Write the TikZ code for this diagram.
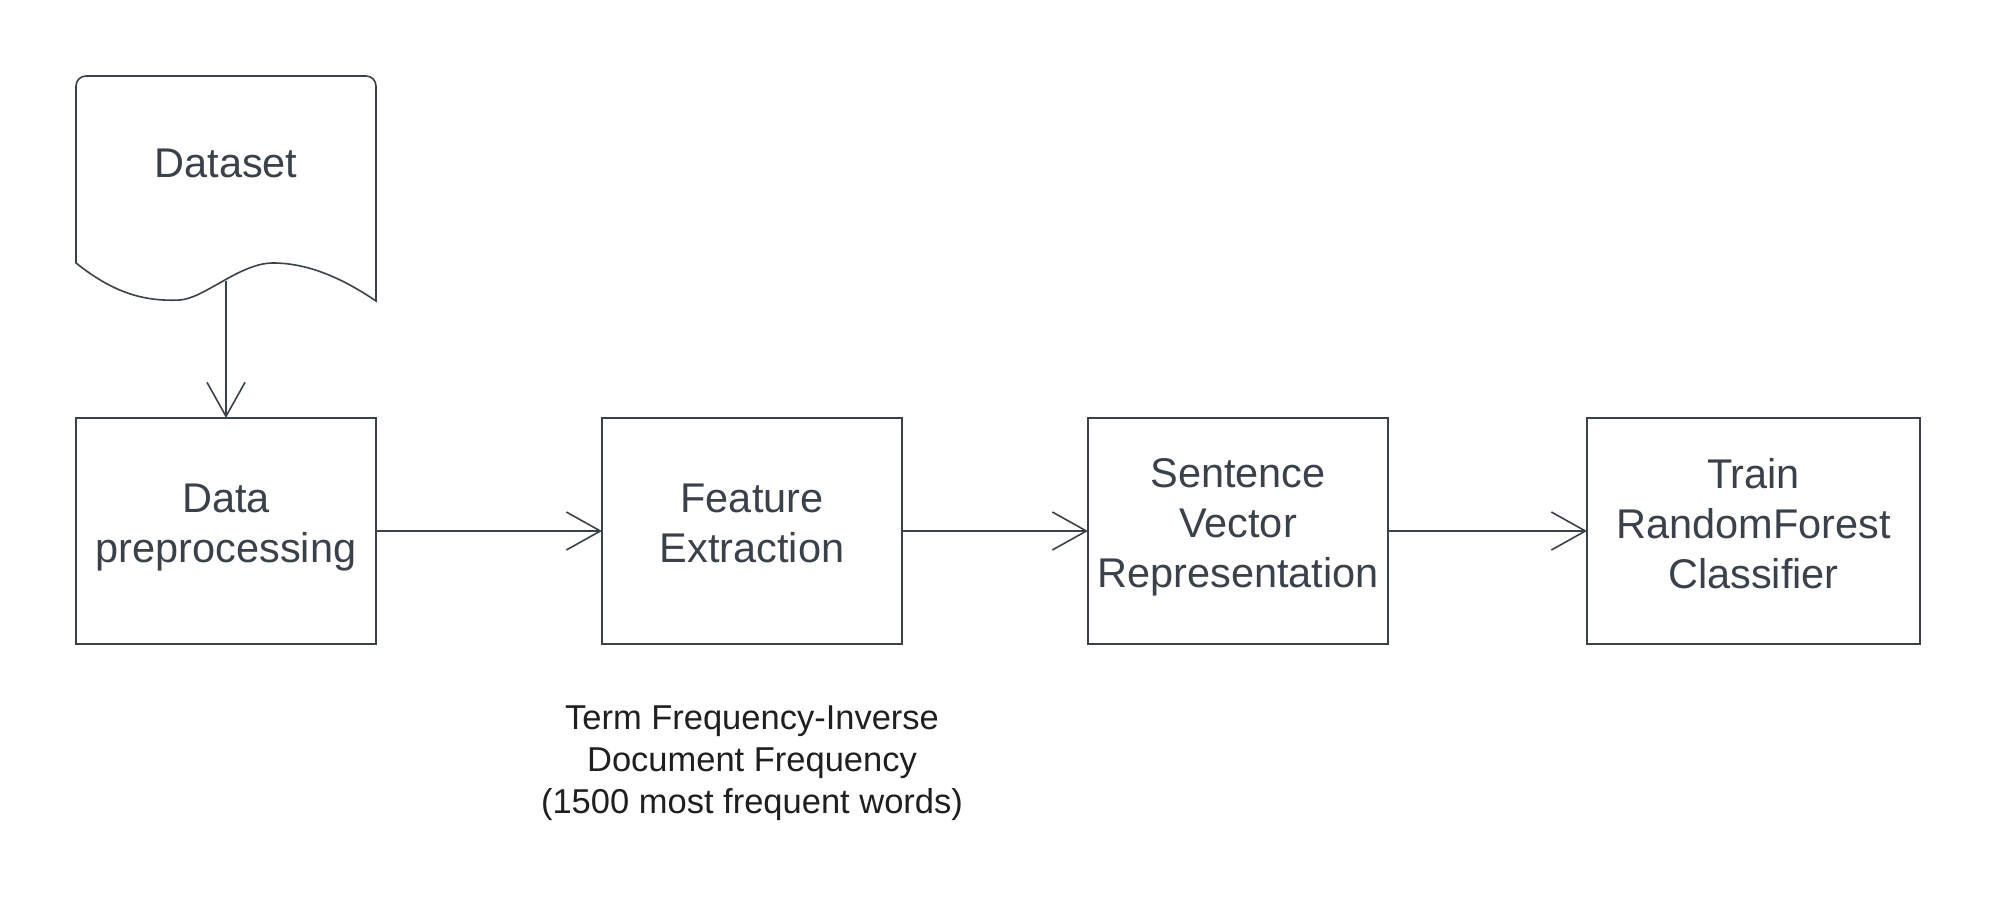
\documentclass[tikz,border=0pt]{standalone}
\usepackage{fontspec}
\setmainfont{Liberation Sans}
\usetikzlibrary{positioning,arrows.meta,calc}
\definecolor{lineslate}{HTML}{3A414A}
\definecolor{labelink}{HTML}{1F1F1F}

\begin{document}
\begin{tikzpicture}[
            x=0.5pt, y=-0.5pt,
            box/.style={rectangle, draw=lineslate, line width=0.8pt, minimum width=150pt, minimum height=113pt, inner sep=2pt, outer sep=0pt, align=center, text=lineslate, font=\fontsize{20.75pt}{25pt}\selectfont, execute at begin node=\rule{0pt}{21.5pt}, execute at end node=\strut},
            note/.style={align=center, text=labelink, font=\fontsize{17.25pt}{21pt}\selectfont},
            arrow/.style={-{Straight Barb[length=17pt, width=19pt]}, draw=lineslate, line width=0.8pt}
        ]
            \useasboundingbox (0,0) rectangle (1995,919);

            % Input document
            \node[text=lineslate, font=\fontsize{20.75pt}{25pt}\selectfont] (dataset) at (226,163) {Dataset};
            \draw[lineslate, line width=0.8pt] (76,263) [rounded corners=5pt] -- (76,76) -- (376,76) [sharp corners] -- (376,301)
                .. controls (345,280) and (310,263) .. (273,263)
                .. controls (240,263) and (205,298) .. (180,300)
                .. controls (140,302) and (110,290) .. (76,263) -- cycle;
            \coordinate (dsbot) at (226,281);

            % Pipeline
            \node[box] (prep) at (226,531) {Data\\preprocessing};
            \node[box, right=113pt of prep] (feat) {Feature\\Extraction};
            \node[box, right=93pt of feat] (vec) {Sentence\\Vector\\Representation};
            \node[box, right=99.5pt of vec, minimum width=166.5pt] (clf) {Train\\RandomForest\\Classifier};

            % Note
            \node[note, below=27.5pt of feat] (tfidf) {Term Frequency-Inverse\\Document Frequency\\(1500 most frequent words)};

            % Arrows
            \draw[arrow] (dsbot) -- (prep);
            \draw[arrow] (prep) -- (feat);
            \draw[arrow] (feat) -- (vec);
            \draw[arrow] (vec) -- (clf);
        \end{tikzpicture}
\end{document}
